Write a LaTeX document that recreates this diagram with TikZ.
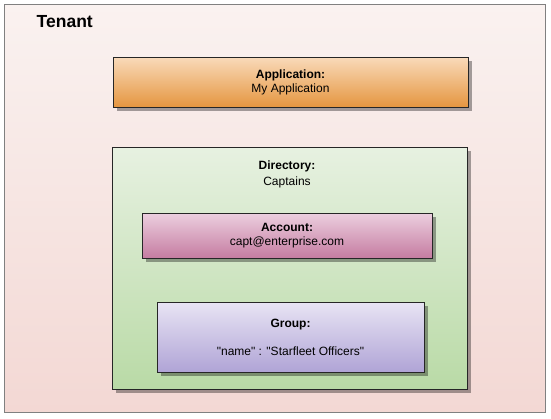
\documentclass[tikz,border=0pt]{standalone}
\usepackage{fontspec}
\setmainfont{Liberation Sans}
\usetikzlibrary{shadows}
\begin{document}
\begin{tikzpicture}[x=1pt,y=-1pt,
  box/.style={draw=black!85, line width=0.9pt, inner sep=0pt, align=center,
    font=\fontsize{12}{14}\selectfont,
    drop shadow={shadow xshift=4pt, shadow yshift=-4pt, fill=black, opacity=0.35}},
  lbl/.style={align=center, font=\fontsize{12}{15.5}\selectfont, inner sep=0pt}]
\useasboundingbox (0,0) rectangle (551,418);
\node[draw=black!50, line width=0.8pt, inner sep=0pt,
  top color={rgb,255:red,250;green,242;blue,240},
  bottom color={rgb,255:red,243;green,216;blue,212},
  minimum width=541pt, minimum height=408pt,
  drop shadow={shadow xshift=1.2pt, shadow yshift=-1.2pt, fill=black, opacity=0.2}] (tenant) at (274.5,208) {};
\node[anchor=west, font=\fontsize{17.5}{20}\selectfont\bfseries, inner sep=0pt] (tlabel) at (36.5,22) {Tenant};
\node[box, minimum width=355pt, minimum height=50pt,
  top color={rgb,255:red,249;green,218;blue,186},
  bottom color={rgb,255:red,229;green,150;blue,64}] (app) at (290.5,82)
  {\textbf{Application:}\\My Application};
\node[box, minimum width=355pt, minimum height=242pt,
  top color={rgb,255:red,231;green,241;blue,225},
  bottom color={rgb,255:red,185;green,218;blue,166}] (dir) at (289.5,268) {};
\node[lbl] (dirlabel) at (287,174.5) {\textbf{Directory:}\\Captains};
\node[box, minimum width=290pt, minimum height=45pt,
  top color={rgb,255:red,236;green,207;blue,223},
  bottom color={rgb,255:red,197;green,124;blue,161}] (acct) at (287,235.5)
  {\textbf{Account:}\\capt@enterprise.com};
\node[box, minimum width=267pt, minimum height=70pt,
  top color={rgb,255:red,232;green,228;blue,244},
  bottom color={rgb,255:red,176;green,164;blue,214}] (grp) at (290.5,337)
  {\textbf{Group:}\\[14pt]\textquotedbl name\textquotedbl\ : \textquotedbl Starfleet Officers\textquotedbl};
\end{tikzpicture}
\end{document}
